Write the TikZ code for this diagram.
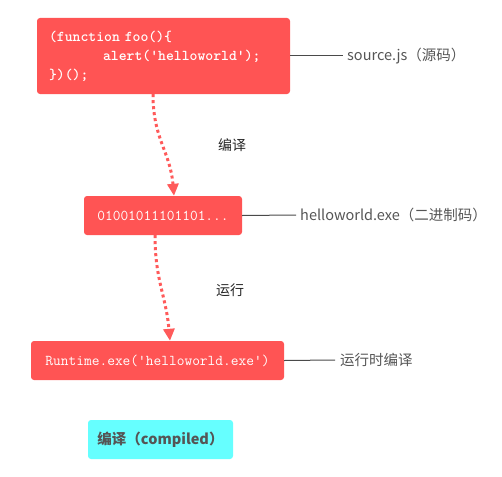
\documentclass[tikz,border=0pt]{standalone}
\usepackage{fontspec}
\setmainfont{Noto Sans CJK SC}
\newfontfamily\cjk{Noto Sans CJK SC}
\usetikzlibrary{arrows.meta}
\definecolor{boxred}{HTML}{FF5454}
\definecolor{dotred}{HTML}{FF5A5A}
\definecolor{boxcyan}{HTML}{66FFFF}
\definecolor{linegray}{HTML}{4A4A4A}
\definecolor{labgray}{HTML}{555555}
\tikzset{
  redbox/.style={fill=boxred, rounded corners=3pt, inner sep=0pt, text=white,
    font=\ttfamily\fontsize{15}{19}\selectfont},
  cyanbox/.style={fill=boxcyan, rounded corners=3pt, inner sep=0pt, text=labgray,
    font=\cjk\bfseries\fontsize{14.5}{16}\selectfont},
  sidelabel/.style={anchor=west, inner sep=0pt, text=labgray, font=\cjk\fontsize{14.5}{16}\selectfont},
  steplabel/.style={inner sep=0pt, text=black!85, font=\cjk\fontsize{14}{16}\selectfont},
  sideline/.style={draw=linegray, line width=1pt},
  flow/.style={draw=dotred, line width=3pt, dash pattern=on 3pt off 3pt,
    -{Triangle[length=12pt,width=11pt,fill=dotred]}, shorten >=0pt}
}
\begin{document}
\begin{tikzpicture}[x=1pt,y=-1pt]
\useasboundingbox (0,0) rectangle (502,476);
\node[redbox, minimum width=253pt, minimum height=76pt, text width=229pt, align=left] (b1) at (163.5,56)
  {\bfseries (function foo()\{\\\hspace*{54pt}alert('helloworld');\\\})();};
\node[redbox, minimum width=158pt, minimum height=39pt] (b2) at (163,215.5) {01001011101101...};
\node[redbox, minimum width=253pt, minimum height=39pt] (b3) at (157.5,360.5) {Runtime.exe('helloworld.exe')};
\node[cyanbox, minimum width=145pt, minimum height=39pt] (c1) at (160.5,439.5) {编译（compiled）};

\node[sidelabel] (s1) at (347,56) {source.js（源码）};
\node[sidelabel] (s2) at (300,215) {helloworld.exe（二进制码）};
\node[sidelabel] (s3) at (340,360) {运行时编译};
\draw[sideline] (b1.east) -- ([xshift=-4pt]s1.west);
\draw[sideline] (b2.east) -- ([xshift=-4pt]s2.west);
\draw[sideline] (b3.east) -- ([xshift=-5pt]s3.west);

\node[steplabel] (l1) at (232,145) {编译};
\node[steplabel] (l2) at (230,290) {运行};

\draw[flow] ([xshift=-10.5pt]b1.south) .. controls +(0,45) and +(-4,-45) .. ([xshift=11pt]b2.north);
\draw[flow] ([xshift=-8pt]b2.south) .. controls +(0,45) and +(-4,-45) .. ([xshift=12.5pt]b3.north);
\end{tikzpicture}
\end{document}
